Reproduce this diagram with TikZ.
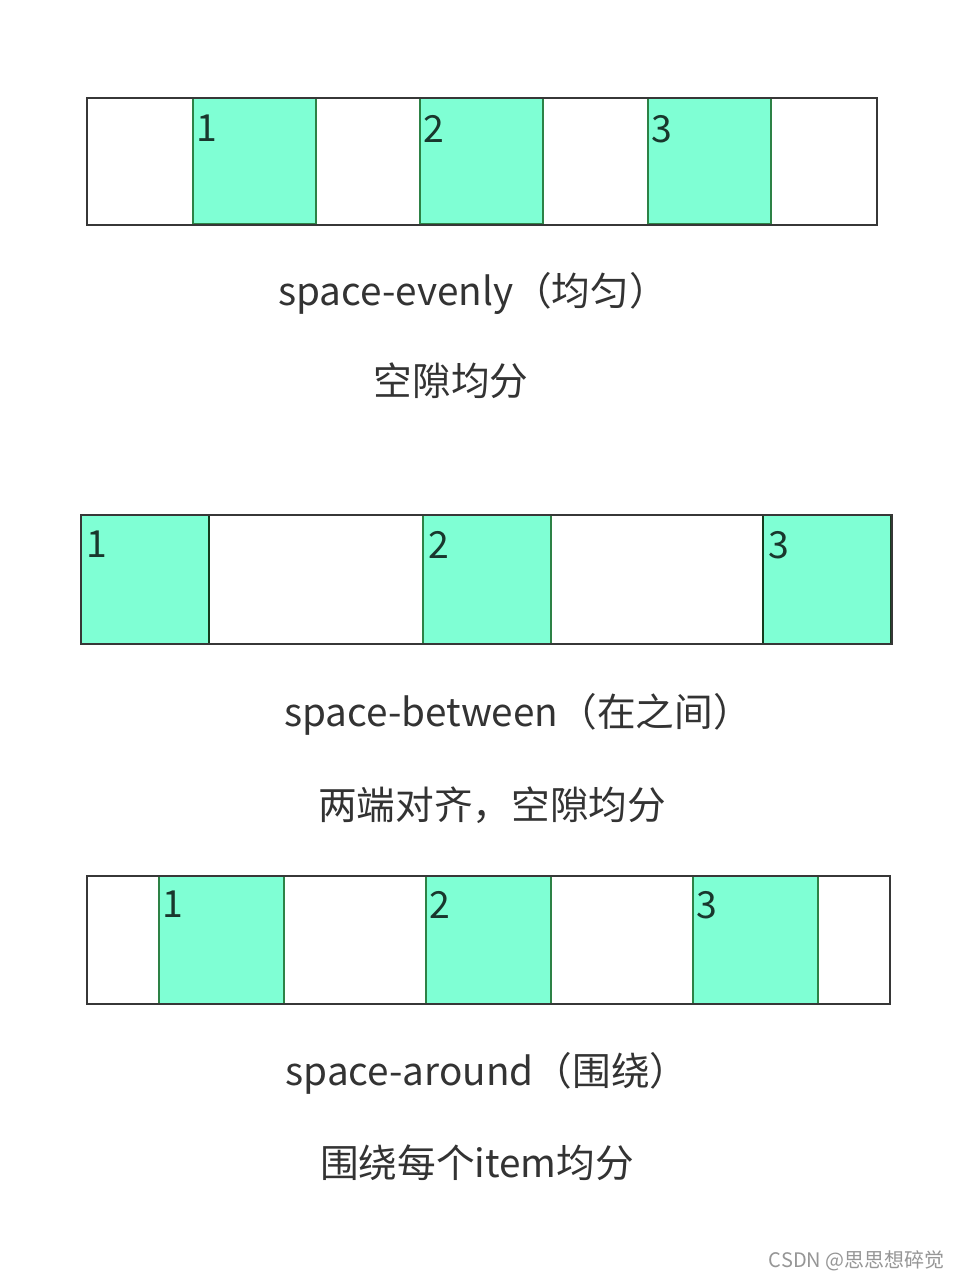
\documentclass[tikz,border=0pt]{standalone}
\usepackage{fontspec}
\setmainfont{Noto Sans CJK SC}
\usepackage{tikz}
\definecolor{aqua}{RGB}{127,255,212}
\definecolor{itemedge}{RGB}{45,130,70}
\definecolor{darkedge}{RGB}{20,60,30}
\definecolor{boxgrey}{RGB}{55,55,55}
\definecolor{capgrey}{RGB}{51,51,51}
\definecolor{digitc}{RGB}{25,55,45}
\definecolor{markgrey}{RGB}{150,150,150}

\begin{document}
\begin{tikzpicture}[x=0.75pt,y=-0.75pt,
   outer/.style={draw=boxgrey,line width=1.3pt},
   item/.style={draw=itemedge,fill=aqua,line width=1.1pt},
   digit/.style={anchor=north west,inner sep=0pt,text=digitc,
     font=\fontsize{28}{30}\selectfont},
   caption/.style={inner sep=0pt,text=capgrey,font=\fontsize{29}{32}\selectfont}]
\useasboundingbox[fill=white] (0,0) rectangle (960,1280);
\foreach \x/\n in {193/1,420/2,648/3}{
  \draw[item] (\x,98) rectangle +(123,126);
  \node[digit] (even\n) at (\x+3,115) {\n};
}
\draw[outer] (87,98) rectangle (877,225);
\node[caption] (evencap) at (473,293) {space-evenly（均匀）};
\node[caption] (evendesc) at (451,381) {空隙均分};
\foreach \x/\n/\e in {81/1/darkedge,423/2/itemedge,763/3/darkedge}{
  \draw[item,draw=\e,line width=1.6pt] (\x,515) rectangle +(128,129);
  \node[digit] (betw\n) at (\x+5,531) {\n};
}
\draw[outer] (81,515) rectangle (892,644);
\node[caption] (betwcap) at (518,714) {space-between（在之间）};
\node[caption] (betwdesc) at (492,805) {两端对齐，空隙均分};
\foreach \x/\n in {159/1,426/2,693/3}{
  \draw[item] (\x,876) rectangle +(125,128);
  \node[digit] (arnd\n) at (\x+3,891) {\n};
}
\draw[outer] (87,876) rectangle (890,1004);
\node[caption] (arndcap) at (487,1073) {space-around（围绕）};
\node[caption] (arnddesc) at (477,1163) {围绕每个item均分};
\node[anchor=east,inner sep=0pt,text=markgrey,font=\fontsize{15}{17}\selectfont]
  (mark) at (945,1261) {CSDN @思思想碎觉};
\end{tikzpicture}
\end{document}
